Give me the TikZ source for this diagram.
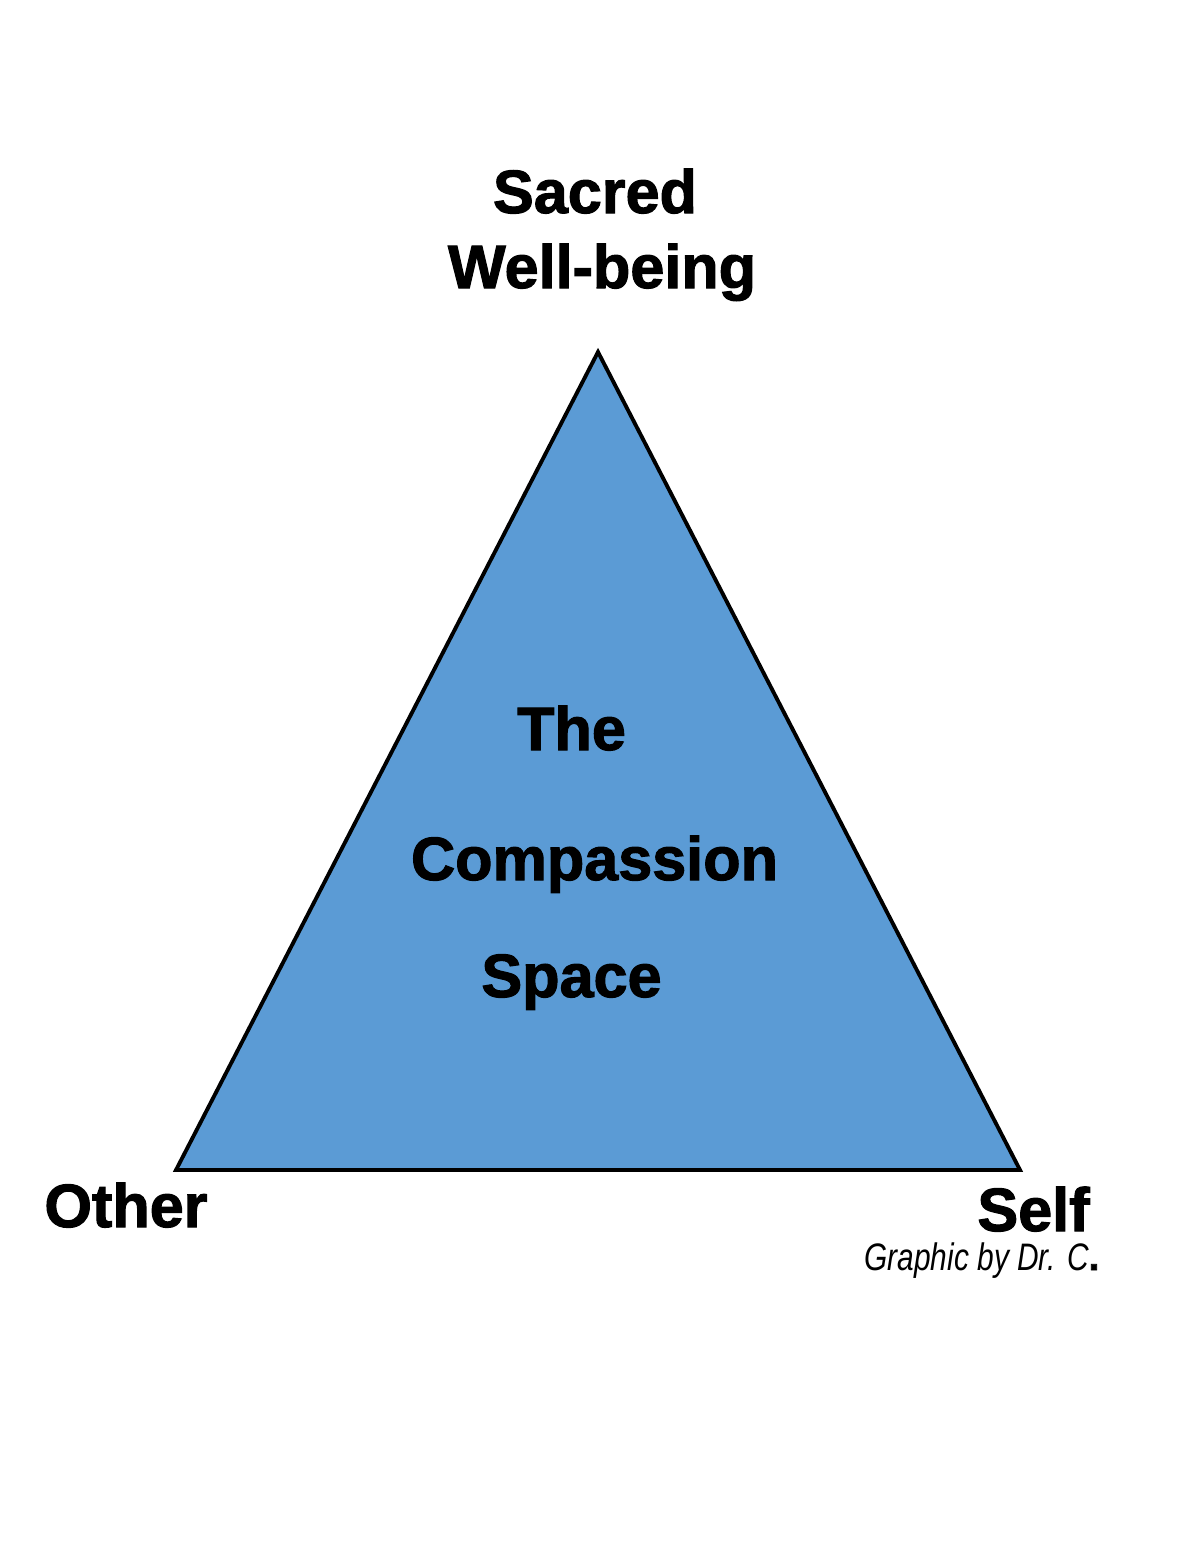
\documentclass[tikz,border=0pt]{standalone}
\usepackage{fontspec}
\setmainfont{Liberation Sans}
\newfontfamily\heavyfont{Liberation Sans Bold}[FakeBold=1.8]
\newfontfamily\narrowfont{Liberation Sans}[FakeStretch=0.78]
\definecolor{spaceblue}{RGB}{91,155,213}
\tikzset{
	corner/.style={inner sep=0pt,anchor=base,font=\heavyfont\fontsize{17.4}{20}\selectfont},
}
\begin{document}
\begin{tikzpicture}
					
					\useasboundingbox (0,0) rectangle (12,-15.53);
					\coordinate (apex) at (5.98,-3.52);
					\coordinate (left) at (1.76,-11.70);
					\coordinate (right) at (10.20,-11.70);
					\filldraw [fill=spaceblue,draw=black,line width=1.1pt,line join=miter] (apex) -- (left) -- (right) -- cycle;
					
					\node [corner] (sacred) at (5.95,-2.13) {Sacred};
					\node [corner] (wellbeing) at (6.02,-2.88) {Well-being};
					
					\node [corner] (the) at (5.715,-7.50) {The};
					\node [corner] (compassion) at (5.945,-8.80) {Compassion};
					\node [corner] (space) at (5.715,-9.97) {Space};
					
					\node [corner] (other) at (1.26,-12.27) {Other};
					\node [corner] (self) at (10.335,-12.31) {Self};
					\node [inner sep=0pt,anchor=base east,font=\narrowfont\fontsize{10.9}{13}\selectfont] (credit) at (11.00,-12.70) {\itshape Graphic by Dr. C\heavyfont\upshape.};
					\end{tikzpicture}
\end{document}
